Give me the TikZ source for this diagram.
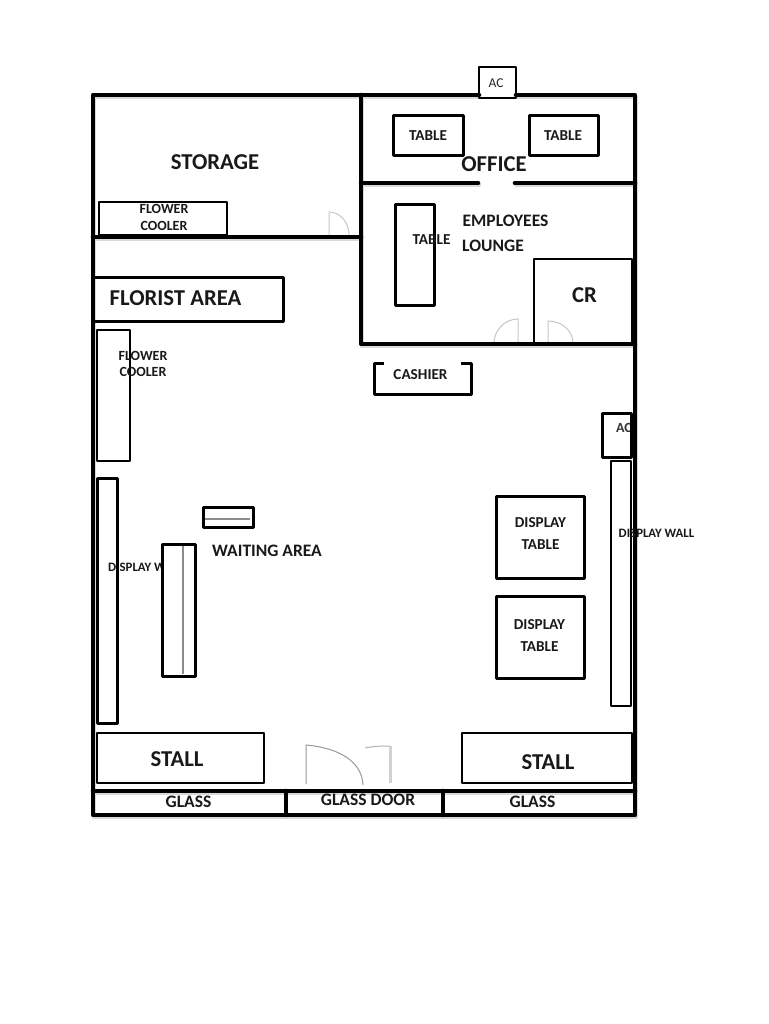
\documentclass[tikz,border=0pt]{standalone}
\usepackage{fontspec}
\setmainfont{Carlito}
\tikzset{
  wall/.style={line width=4.6pt,line cap=round,line join=round,black},
  wallshadow/.style={line width=4.6pt,black!15,line cap=round,line join=round,xshift=1pt,yshift=-2pt},
  box/.style={draw=black,line width=3pt,line join=round},
  thinbox/.style={draw=black,line width=2.5pt,line join=round},
  doorline/.style={draw=black!22,line width=1pt},
  paleline/.style={draw=black!45,line width=1pt},
  lbl/.style={inner sep=0pt,text=black!90},
  big/.style={lbl,font=\fontsize{22.7}{22.7}\selectfont\bfseries},
  mid/.style={lbl,font=\fontsize{15.2}{15.2}\selectfont\bfseries},
  wide/.style={lbl,font=\fontsize{17.5}{17.5}\selectfont\bfseries},
  small/.style={lbl,font=\fontsize{14}{14}\selectfont\bfseries},
  tiny/.style={lbl,font=\fontsize{12.8}{12.8}\selectfont\bfseries},
}
\begin{document}
\begin{tikzpicture}[x=1pt,y=-1pt]
\useasboundingbox (0,0) rectangle (768,1024);
\fill[white] (0,0) rectangle (768,1024);
% wall shadows
\draw[wallshadow] (93,95) rectangle (635,815);
\draw[wallshadow] (93,237) -- (361,237);
\draw[wallshadow] (361,95) -- (361,344) -- (635,344);
\draw[wallshadow] (361,183) -- (478,183);
\draw[wallshadow] (515,183) -- (635,183);
\draw[wallshadow] (93,791) -- (635,791);
% doors
\draw[doorline] (329,235) -- (329,212) .. controls (340,212) and (349,222) .. (349,235);
\draw[doorline] (518,343) -- (518,319) .. controls (505,319) and (494,330) .. (494,343);
\draw[doorline] (548,343) -- (548,321) .. controls (562,321) and (573,331) .. (573,343);
\draw[doorline,draw=black!40] (306,784) -- (306,745) .. controls (340,748) and (362,762) .. (363,785);
\draw[doorline,draw=black!30] (365,748) .. controls (374,746) and (384,746) .. (390,746);
\draw[draw=black!18,line width=3pt] (390,746) -- (390,783);
% clipped and overlaid labels first
\node[tiny] (dwl) at (146,567) {DISPLAY WALL};
\node[small,text=black!80] (acr) at (624,428) {AC};
\fill[white] (631,413) rectangle (634,457);
% furniture
\draw[thinbox,fill=white] (479,67) rectangle (516,98);
\draw[box] (393,116) rectangle (463,156);
\draw[box] (529,116) rectangle (598,156);
\draw[box] (395.5,205) rectangle (434,305);
\draw[thinbox] (534,259) rectangle (632,344);
\draw[box] (384,363) -- (374,363) -- (374,394) -- (471,394) -- (471,363) -- (461,363);
\draw[thinbox] (99,202) rectangle (227,235);
\draw[box] (93,277) rectangle (283,321);
\draw[thinbox] (97,330) rectangle (130,461);
\draw[box] (97.5,478) rectangle (117.5,723);
\draw[box,fill=white] (162,544) rectangle (195,676);
\draw[paleline,line width=1.2pt] (183,546) -- (183,674);
\draw[box] (203,507) rectangle (253,527);
\draw[paleline,line width=1.2pt] (205,519) -- (250,519);
\draw[thinbox] (97,733) rectangle (264,783);
\draw[thinbox] (462,733) rectangle (632,783);
\draw[box] (496,496) rectangle (584,578);
\draw[box] (496,596) rectangle (584,678);
\draw[box] (602,413) rectangle (631,457);
\draw[thinbox] (611,461) rectangle (631,706);
% walls
\draw[wall] (479,95) -- (93,95) -- (93,815) -- (635,815) -- (635,95) -- (516,95);
\draw[wall] (93,237) -- (361,237);
\draw[wall] (361,95) -- (361,344) -- (635,344);
\draw[wall] (361,183) -- (478,183);
\draw[wall] (515,183) -- (635,183);
\draw[wall] (93,791) -- (635,791);
\draw[wall] (286,791) -- (286,815);
\draw[wall] (443,791) -- (443,815);
% labels
\node[lbl,font=\fontsize{13.5}{13.5}\selectfont,text=black!85] (ac) at (496,83) {AC};
\node[big] (storage) at (215,162) {STORAGE};
\node[small] (fc1) at (164,209) {FLOWER};
\node[small] (fc2) at (164,226) {COOLER};
\node[big] (florist) at (175.5,298) {FLORIST AREA};
\node[small] (fc3) at (143,356) {FLOWER};
\node[small] (fc4) at (143,372) {COOLER};
\node[mid] (t1) at (428,135.5) {TABLE};
\node[mid] (t2) at (563,135.5) {TABLE};
\node[big] (office) at (494,164.5) {OFFICE};
\node[wide] (el1) at (505.5,221) {EMPLOYEES};
\node[wide] (el2) at (493,245.5) {LOUNGE};
\node[mid] (t3) at (431.5,240) {TABLE};
\node[big] (cr) at (584.5,295) {CR};
\node[mid] (cashier) at (420.5,374.5) {CASHIER};
\node[wide] (wa) at (267,550.5) {WAITING AREA};
\node[tiny] (dwr) at (656.5,533.5) {DISPLAY WALL};
\node[mid] (dt1) at (540.5,523) {DISPLAY};
\node[mid] (dt2) at (540.5,545) {TABLE};
\node[mid] (dt3) at (539.5,624.5) {DISPLAY};
\node[mid] (dt4) at (539.5,646.5) {TABLE};
\node[big] (s1) at (177,759.5) {STALL};
\node[big] (s2) at (548,762) {STALL};
\node[wide] (g1) at (188.5,802) {GLASS};
\node[wide] (g2) at (368,800) {GLASS DOOR};
\node[wide] (g3) at (532.5,802) {GLASS};
\end{tikzpicture}
\end{document}
